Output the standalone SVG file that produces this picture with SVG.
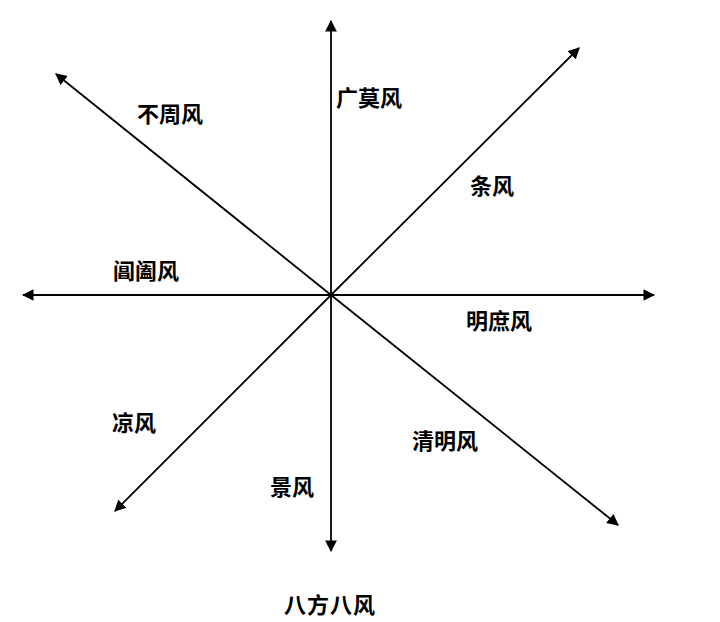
<svg xmlns="http://www.w3.org/2000/svg" width="720" height="622" viewBox="0 0 720 622">
<style>
.ax{stroke:#000;stroke-width:1.8;fill:none;marker-end:url(#ah)}
.lb{font-family:"Noto Sans CJK SC","Noto Sans",sans-serif;font-size:22px;font-weight:bold;fill:#000;dominant-baseline:central}
</style>
<defs>
<marker id="ah" viewBox="0 0 10 10" refX="9" refY="5" markerWidth="6.5" markerHeight="6.5" markerUnits="strokeWidth" orient="auto">
<path d="M0,0 L10,5 L0,10 Z" fill="#000"/>
</marker>
</defs>
<rect width="720" height="622" fill="#fff"/>
<g id="connectors">
<line class="ax" x1="331" y1="295" x2="331" y2="21"/>
<line class="ax" x1="331" y1="295" x2="331" y2="551"/>
<line class="ax" x1="331" y1="295" x2="23" y2="295"/>
<line class="ax" x1="331" y1="295" x2="654" y2="295"/>
<line class="ax" x1="331" y1="295" x2="56" y2="74"/>
<line class="ax" x1="331" y1="295" x2="618" y2="525"/>
<line class="ax" x1="331" y1="295" x2="579" y2="48"/>
<line class="ax" x1="331" y1="295" x2="115" y2="511"/>
</g>
<g id="n-buzhou"><text class="lb" x="137" y="112">不周风</text></g>
<g id="n-guangmo"><text class="lb" x="336" y="96">广莫风</text></g>
<g id="n-tiao"><text class="lb" x="470" y="184">条风</text></g>
<g id="n-changhe"><text class="lb" x="113" y="269">阊阖风</text></g>
<g id="n-mingshu"><text class="lb" x="466" y="319">明庶风</text></g>
<g id="n-liang"><text class="lb" x="112" y="421">凉风</text></g>
<g id="n-qingming"><text class="lb" x="412" y="439">清明风</text></g>
<g id="n-jing"><text class="lb" x="270" y="485">景风</text></g>
<g id="title"><text class="lb" x="284" y="603" letter-spacing="1">八方八风</text></g>
</svg>
